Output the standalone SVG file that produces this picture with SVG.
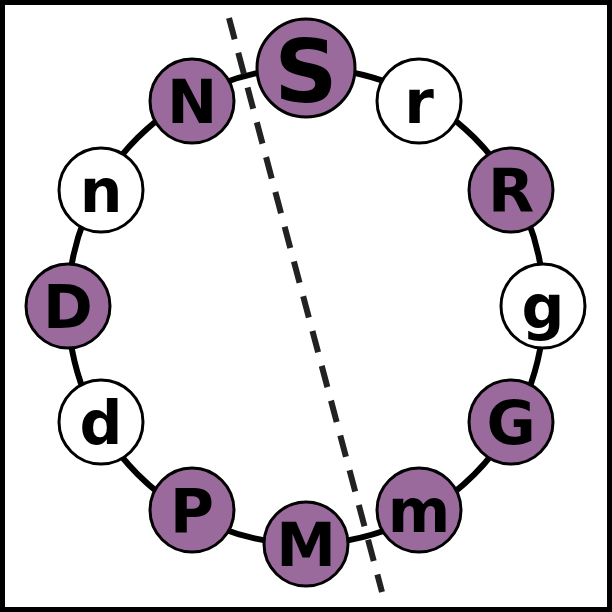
<svg xmlns="http://www.w3.org/2000/svg" width="612" height="612" viewBox="0 0 612 612">
<style>
.n circle{stroke:#000;stroke-width:3}
.p{fill:#9a6a9d}
.w{fill:#fff}
text{font-family:"DejaVu Sans",sans-serif;font-weight:bold;font-size:60px;text-anchor:middle;fill:#000}
</style>
<rect x="2.5" y="2.5" width="607" height="607" fill="#fff" stroke="#000" stroke-width="5"/>
<g id="connectors">
<circle cx="306" cy="306" r="238" fill="none" stroke="#000" stroke-width="6"/>
</g>
<g id="S" class="n"><circle class="p" cx="306" cy="68" r="49"/><text x="306" y="102" style="font-size:88px">S</text></g>
<g id="r" class="n"><circle class="w" cx="419" cy="101" r="42"/><text x="419" y="123">r</text></g>
<g id="R" class="n"><circle class="p" cx="511" cy="190" r="42"/><text x="511" y="212">R</text></g>
<g id="g" class="n"><circle class="w" cx="543" cy="306" r="42"/><text x="543" y="328">g</text></g>
<g id="G" class="n"><circle class="p" cx="511" cy="422" r="42"/><text x="511" y="444">G</text></g>
<g id="m" class="n"><circle class="p" cx="419" cy="510" r="42"/><text x="419" y="532">m</text></g>
<g id="M" class="n"><circle class="p" cx="306" cy="544" r="42"/><text x="306" y="566">M</text></g>
<g id="P" class="n"><circle class="p" cx="192" cy="510" r="42"/><text x="192" y="532">P</text></g>
<g id="d" class="n"><circle class="w" cx="101" cy="422" r="42"/><text x="101" y="444">d</text></g>
<g id="D" class="n"><circle class="p" cx="68" cy="306" r="42"/><text x="68" y="328">D</text></g>
<g id="n" class="n"><circle class="w" cx="101" cy="190" r="42"/><text x="101" y="212">n</text></g>
<g id="N" class="n"><circle class="p" cx="192" cy="101" r="42"/><text x="192" y="123">N</text></g>
<line x1="229" y1="18" x2="382" y2="592" stroke="#222" stroke-width="6" stroke-dasharray="22,14"/>
</svg>
